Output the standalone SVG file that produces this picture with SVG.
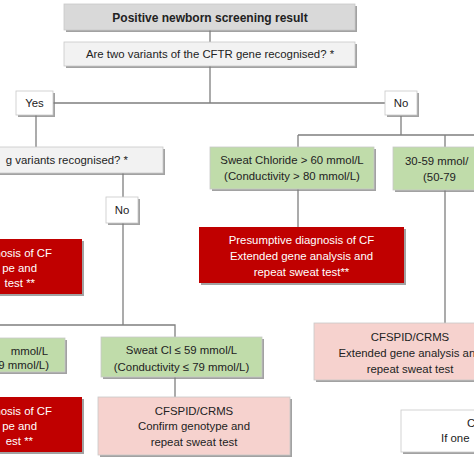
<svg xmlns="http://www.w3.org/2000/svg" width="474" height="474" viewBox="0 0 474 474">
<defs>
<style>
.sh{fill:#7a7a7a;opacity:.7}
.bx{stroke:#c8c8c8;stroke-width:.8}
.gray{fill:#d9d9d9}
.lt{fill:#f2f2f2}
.wh{fill:#ffffff}
.gr{fill:#c0dcaa}
.rd{fill:#c00000;stroke:none}
.pk{fill:#f6d2ce}
text{font-family:"Liberation Sans",Arial,sans-serif;font-size:11.4px;fill:#222}
.t{font-weight:bold;font-size:12px}
.w{fill:#ffffff}
.c{text-anchor:middle}
.e{text-anchor:end}
.ln{stroke:#7f7f7f;stroke-width:1.3;fill:none}
</style>
</defs>
<rect width="474" height="474" fill="#ffffff"/>
<g id="connectors">
<path class="ln" d="M210 30V42M210 66V103M53 103H385M36 115V147M401 116V135M298 135H474M298 135V147M445 135V147M123 173V197M123 223V325M0 325H175V337M298 189V227M445 190V323M175 377V397"/>
</g>
<g id="n-screen">
<rect class="sh" x="66" y="6" width="291" height="26"/>
<rect class="bx gray" x="64" y="4" width="291" height="26"/>
<text class="t c" x="210" y="21.5">Positive newborn screening result</text>
</g>
<g id="n-q1">
<rect class="sh" x="66" y="44" width="291" height="24"/>
<rect class="bx lt" x="64" y="42" width="291" height="24"/>
<text class="c" x="210" y="58">Are two variants of the CFTR gene recognised? *</text>
</g>
<g id="n-yes">
<rect class="sh" x="18" y="93" width="37" height="24"/>
<rect class="bx wh" x="16" y="91" width="37" height="24"/>
<text class="c" x="34.5" y="107">Yes</text>
</g>
<g id="n-no1">
<rect class="sh" x="387" y="93" width="32" height="24"/>
<rect class="bx wh" x="385" y="91" width="32" height="24"/>
<text class="c" x="401" y="107">No</text>
</g>
<g id="n-q2">
<rect class="sh" x="-8" y="149" width="173" height="26"/>
<rect class="bx lt" x="-10" y="147" width="173" height="26"/>
<text class="e" x="128" y="164">g variants recognised? *</text>
</g>
<g id="n-no2">
<rect class="sh" x="108" y="199" width="32" height="26"/>
<rect class="bx wh" x="106" y="197" width="32" height="26"/>
<text class="c" x="122" y="214">No</text>
</g>
<g id="n-red-left-1">
<rect class="sh" x="-112" y="241" width="196" height="55"/>
<rect class="rd" x="-114" y="239" width="196" height="55"/>
<text class="e w" x="52" y="257">nosis of CF</text>
<text class="e w" x="37" y="272">pe and</text>
<text class="e w" x="35" y="287">test **</text>
</g>
<g id="n-green-left">
<rect class="sh" x="-98" y="340" width="165" height="34"/>
<rect class="bx gr" x="-100" y="338" width="165" height="34"/>
<text class="e" x="48" y="355">mmol/L</text>
<text class="e" x="49" y="369">9 mmol/L)</text>
</g>
<g id="n-red-left-2">
<rect class="sh" x="-112" y="399" width="196" height="55"/>
<rect class="rd" x="-114" y="397" width="196" height="55"/>
<text class="e w" x="52" y="415">nosis of CF</text>
<text class="e w" x="37" y="430">pe and</text>
<text class="e w" x="33" y="445">est **</text>
</g>
<g id="n-green-low">
<rect class="sh" x="103" y="339" width="161" height="40"/>
<rect class="bx gr" x="101" y="337" width="161" height="40"/>
<text class="c" x="181.5" y="354">Sweat Cl ≤ 59 mmol/L</text>
<text class="c" x="181.5" y="371">(Conductivity ≤ 79 mmol/L)</text>
</g>
<g id="n-pink-confirm">
<rect class="sh" x="100" y="399" width="192" height="58"/>
<rect class="bx pk" x="98" y="397" width="192" height="58"/>
<text class="c" x="194" y="415">CFSPID/CRMS</text>
<text class="c" x="194" y="430">Confirm genotype and</text>
<text class="c" x="194" y="446">repeat sweat test</text>
</g>
<g id="n-green-high">
<rect class="sh" x="212" y="149" width="164" height="42"/>
<rect class="bx gr" x="210" y="147" width="164" height="42"/>
<text class="c" x="292" y="164">Sweat Chloride &gt; 60 mmol/L</text>
<text class="c" x="292" y="180">(Conductivity &gt; 80 mmol/L)</text>
</g>
<g id="n-red-right">
<rect class="sh" x="201" y="229" width="205" height="56"/>
<rect class="rd" x="199" y="227" width="205" height="56"/>
<text class="c w" x="301.5" y="244">Presumptive diagnosis of CF</text>
<text class="c w" x="301.5" y="260">Extended gene analysis and</text>
<text class="c w" x="301.5" y="276">repeat sweat test**</text>
</g>
<g id="n-green-mid">
<rect class="sh" x="395" y="149" width="100" height="43"/>
<rect class="bx gr" x="393" y="147" width="100" height="43"/>
<text x="405" y="165">30-59 mmol/</text>
<text x="423" y="181">(50-79</text>
</g>
<g id="n-pink-extended">
<rect class="sh" x="316" y="325" width="200" height="57"/>
<rect class="bx pk" x="314" y="323" width="200" height="57"/>
<text class="c" x="410" y="341">CFSPID/CRMS</text>
<text class="c" x="410" y="357">Extended gene analysis and</text>
<text class="c" x="410" y="373">repeat sweat test</text>
</g>
<g id="n-white">
<rect class="sh" x="403" y="412" width="100" height="42"/>
<rect class="bx wh" x="401" y="410" width="100" height="42"/>
<text x="467" y="427">C</text>
<text x="441" y="442">If one</text>
</g>
</svg>
